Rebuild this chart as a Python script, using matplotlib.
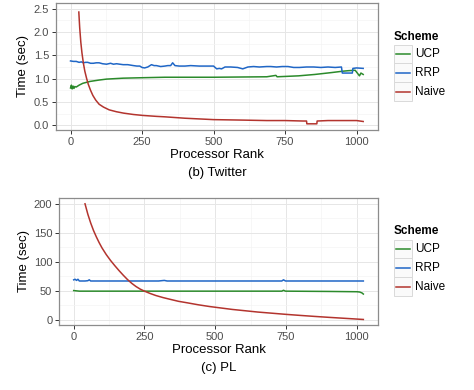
import matplotlib.pyplot as plt
from matplotlib.patches import Rectangle
from matplotlib.lines import Line2D
from matplotlib.ticker import MultipleLocator

plt.rcParams['font.family'] = ['Liberation Sans', 'DejaVu Sans']

# ---- (b) Twitter ----
tw_naive_rank = [29, 32, 36, 40, 45, 50, 56, 62, 70, 78, 88, 100, 115, 135, 160, 185, 220, 253,
                 300, 330, 400, 500, 600, 686, 750, 813, 825, 826, 861, 862, 900, 950, 1000, 1023]
tw_naive_t = [2.43, 2.10, 1.78, 1.55, 1.33, 1.16, 1.01, 0.88, 0.75, 0.64, 0.54, 0.45, 0.39, 0.33,
              0.29, 0.26, 0.23, 0.21, 0.19, 0.18, 0.15, 0.12, 0.11, 0.10, 0.10, 0.09, 0.09, 0.03,
              0.03, 0.09, 0.10, 0.10, 0.10, 0.08]

tw_rrp_rank = [0, 10, 20, 30, 38, 45, 52, 60, 70, 80, 90, 100, 112, 126, 140, 150, 161, 172, 184,
               200, 210, 220, 232, 242, 250, 259, 270, 283, 292, 300, 315, 330, 340, 350, 357,
               365, 380, 400, 420, 450, 475, 500, 511, 520, 528, 540, 560, 584, 602, 620, 640,
               660, 686, 700, 720, 740, 760, 780, 800, 825, 850, 875, 900, 925, 947, 950, 985,
               987, 1000, 1023]
tw_rrp_t = [1.38, 1.37, 1.37, 1.35, 1.36, 1.34, 1.35, 1.35, 1.33, 1.33, 1.34, 1.34, 1.32, 1.31,
            1.33, 1.31, 1.32, 1.31, 1.30, 1.30, 1.29, 1.28, 1.27, 1.27, 1.24, 1.23, 1.25, 1.30,
            1.28, 1.28, 1.26, 1.27, 1.28, 1.28, 1.34, 1.28, 1.27, 1.27, 1.28, 1.27, 1.27, 1.27,
            1.21, 1.22, 1.21, 1.25, 1.25, 1.24, 1.21, 1.25, 1.26, 1.25, 1.26, 1.26, 1.25, 1.26,
            1.26, 1.24, 1.24, 1.25, 1.25, 1.24, 1.25, 1.24, 1.25, 1.12, 1.12, 1.22, 1.23, 1.22]

tw_ucp_rank = [0, 3, 6, 9, 12, 15, 20, 30, 43, 68, 100, 126, 184, 253, 330, 500, 686, 718, 722,
               797, 854, 912, 952, 970, 995, 1000, 1005, 1010, 1015, 1023]
tw_ucp_t = [0.80, 0.86, 0.78, 0.84, 0.79, 0.83, 0.82, 0.86, 0.90, 0.94, 0.97, 0.99, 1.01, 1.02,
            1.03, 1.03, 1.04, 1.07, 1.04, 1.06, 1.09, 1.13, 1.16, 1.17, 1.18, 1.14, 1.10, 1.06,
            1.12, 1.09]

# ---- (c) PL ----
pl_naive_rank = [40, 50, 60, 70, 80, 90, 100, 115, 130, 145, 160, 175, 190, 205, 220, 235, 250,
                 270, 290, 315, 340, 370, 400, 440, 480, 520, 560, 600, 650, 700, 750, 800,
                 850, 900, 950, 1000, 1023]
pl_naive_t = [200, 182, 167, 154, 143, 133, 124, 112.5, 102.5, 93.5, 85, 77, 69.5, 63, 57.5,
              53, 49.5, 45.5, 42, 38.5, 35.5, 32, 29.5, 26, 23, 20.5, 18, 16, 13.5, 11.5, 9.5,
              7.7, 6, 4.4, 2.9, 1.4, 0.7]

pl_rrp_rank = [0, 5, 10, 15, 20, 40, 50, 55, 60, 100, 300, 320, 330, 500, 735, 741, 748, 800,
               1000, 1023]
pl_rrp_t = [69, 70, 68, 70, 67, 67, 67.5, 69, 67, 67, 67, 68, 67, 67, 67, 69, 67, 67, 67, 67]

pl_ucp_rank = [0, 10, 20, 50, 100, 300, 500, 735, 741, 748, 900, 1000, 1010, 1018, 1023]
pl_ucp_t = [50.5, 50, 49.5, 49.5, 49.5, 49.5, 49.5, 49.5, 51, 49.5, 49, 48.5, 48, 46.5, 44.5]

schemes = ['UCP', 'RRP', 'Naive']
colors = {'UCP': '#2b8a2b', 'RRP': '#1f66c6', 'Naive': '#b3342e'}

fig = plt.figure(figsize=(4.74, 3.9), dpi=100)
ax1 = fig.add_axes([0.118, 0.667, 0.679, 0.326])
ax2 = fig.add_axes([0.125, 0.167, 0.672, 0.325])


def style(ax, ymaj, ymin):
    ax.set_facecolor('white')
    ax.xaxis.set_major_locator(MultipleLocator(250))
    ax.xaxis.set_minor_locator(MultipleLocator(125))
    ax.yaxis.set_major_locator(MultipleLocator(ymaj))
    ax.yaxis.set_minor_locator(MultipleLocator(ymin))
    ax.grid(which='major', color='#e6e6e6', lw=0.7)
    ax.grid(which='minor', color='#f4f4f4', lw=0.5)
    ax.set_axisbelow(True)
    for s in ax.spines.values():
        s.set_color('#8c8c8c')
        s.set_linewidth(0.9)
    ax.tick_params(which='major', length=3, width=0.7, color='#333333',
                   labelsize=8, labelcolor='#4d4d4d', pad=2)
    ax.tick_params(which='minor', length=0)
    ax.set_xlim(-51, 1074)


style(ax1, 0.5, 0.25)
ax1.set_ylim(-0.1, 2.63)
ax1.plot(tw_ucp_rank, tw_ucp_t, color=colors['UCP'], lw=1.1)
ax1.plot(tw_rrp_rank, tw_rrp_t, color=colors['RRP'], lw=1.1)
ax1.plot(tw_naive_rank, tw_naive_t, color=colors['Naive'], lw=1.1)
ax1.set_ylabel('Time (sec)', fontsize=9.5, labelpad=3)

style(ax2, 50, 25)
ax2.set_ylim(-8.6, 209.8)
ax2.plot(pl_ucp_rank, pl_ucp_t, color=colors['UCP'], lw=1.1)
ax2.plot(pl_rrp_rank, pl_rrp_t, color=colors['RRP'], lw=1.1)
ax2.plot(pl_naive_rank, pl_naive_t, color=colors['Naive'], lw=1.1)
ax2.set_ylabel('Time (sec)', fontsize=9.5, labelpad=3)

fig.text(0.458, 0.603, 'Processor Rank', ha='center', va='center', fontsize=9.5)
fig.text(0.458, 0.556, '(b) Twitter', ha='center', va='center', fontsize=9.5)
fig.text(0.462, 0.103, 'Processor Rank', ha='center', va='center', fontsize=9.5)
fig.text(0.462, 0.056, '(c) PL', ha='center', va='center', fontsize=9.5)


def legend(title_y, first_y):
    fig.text(394 / 474, 1 - title_y / 390, 'Scheme', fontsize=8.5, fontweight='bold',
             ha='left', va='center')
    for i, s in enumerate(schemes):
        yc = first_y + i * 18.8
        fig.add_artist(Rectangle((394 / 474, 1 - (yc + 9.4) / 390), 18 / 474, 18.8 / 390,
                                 facecolor='#fafafa', edgecolor='#d9d9d9', lw=0.7,
                                 transform=fig.transFigure))
        fig.add_artist(Line2D([396 / 474, 410 / 474], [1 - yc / 390, 1 - yc / 390],
                              color=colors[s], lw=1.1, transform=fig.transFigure))
        fig.text(415 / 474, 1 - yc / 390, s, fontsize=8.5, ha='left', va='center')


legend(36.5, 54)
legend(231.5, 249)

fig.savefig('out.png', dpi=100)
